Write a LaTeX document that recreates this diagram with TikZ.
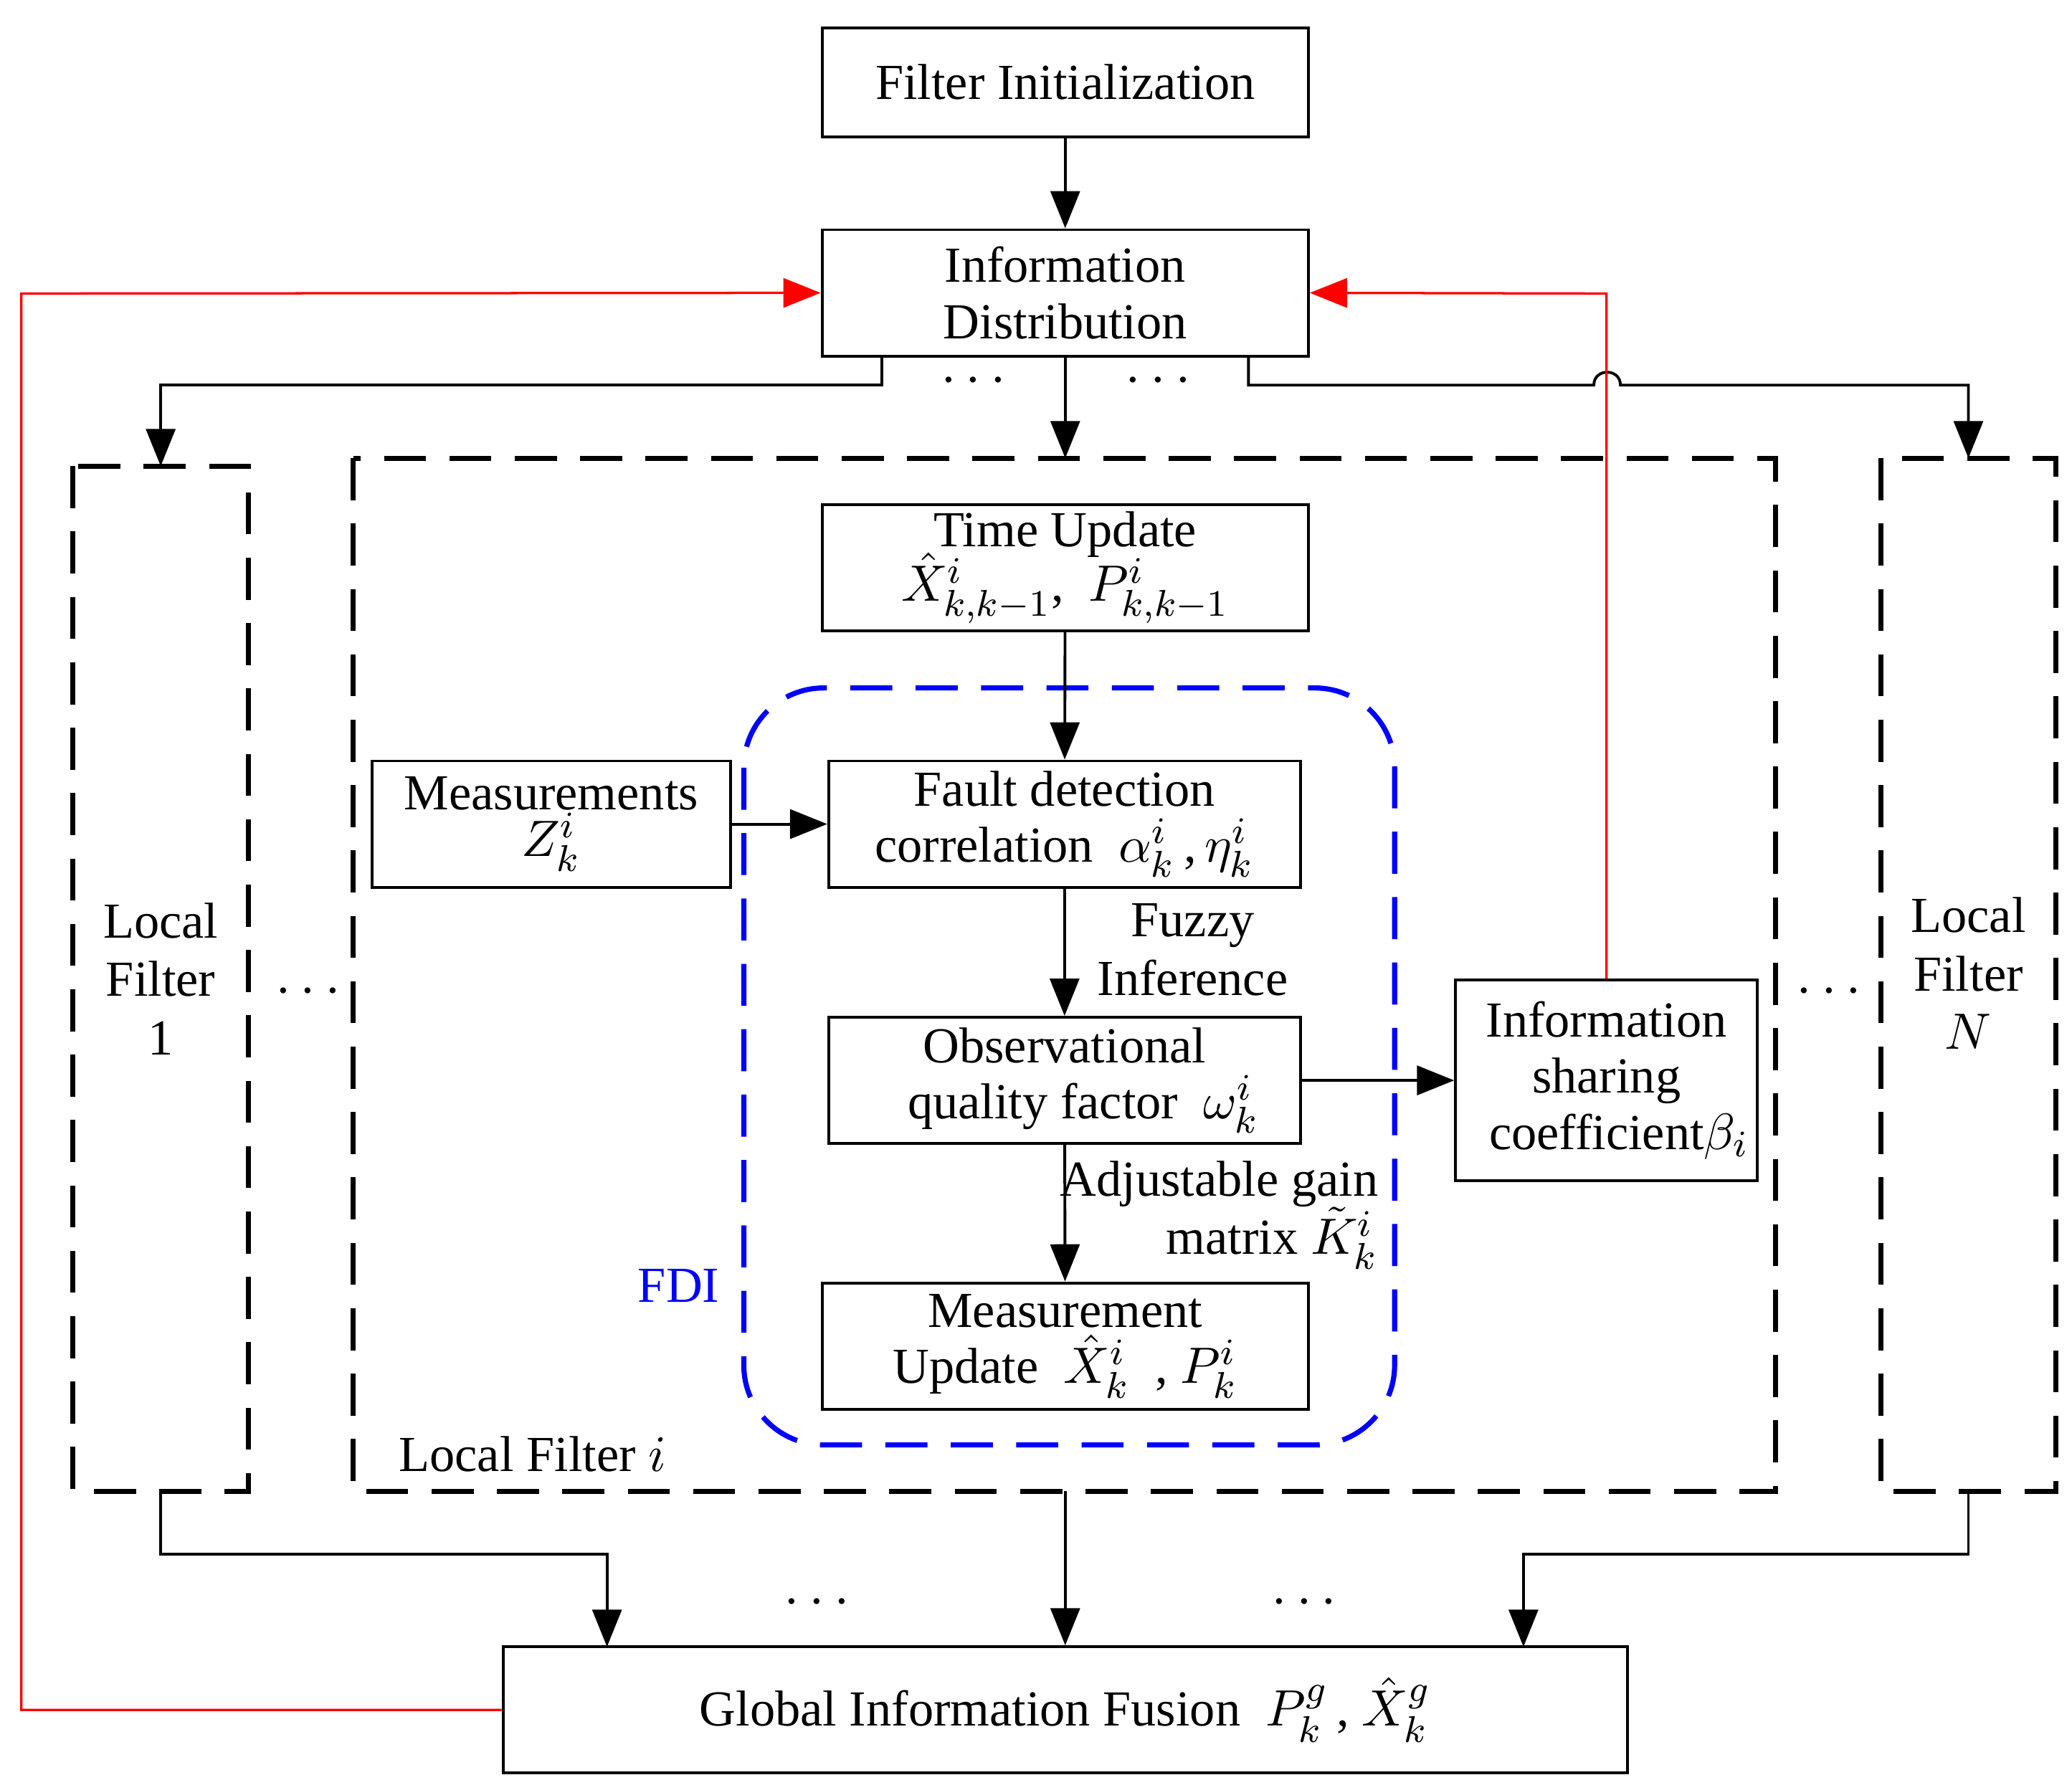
\documentclass[tikz,border=0pt]{standalone}
\usepackage{fontspec}
\setmainfont{Liberation Serif}
\usetikzlibrary{arrows.meta}
\begin{document}
\begin{tikzpicture}[x=0.01cm,y=-0.01cm,
  box/.style={draw,line width=0.6pt,inner sep=0pt,align=center,font=\fontsize{10.8}{12}\selectfont},
  dbox/.style={draw,line width=1.1pt,dash pattern=on 9pt off 5pt},
  arr/.style={line width=0.6pt,-{Triangle[length=0.28cm,width=0.22cm]}},
  rarr/.style={red,line width=0.5pt,-{Triangle[length=0.28cm,width=0.22cm]}},
  lbl/.style={font=\fontsize{10.8}{12.5}\selectfont,align=center},
  dots/.style={font=\fontsize{12}{12}\selectfont}]
\useasboundingbox (0,0) rectangle (1560,1344);
\node[box,minimum width=3.66cm,minimum height=0.82cm] (fi) at (802,62) {Filter Initialization};
\node[box,minimum width=3.66cm,minimum height=0.95cm] (id) at (802,220.5) {Information\\Distribution};
\draw[dbox] (55,351) rectangle (187,1123);
\node[lbl] (lf1) at (121,737) {Local\\Filter\\1};
\draw[dbox] (266,345) rectangle (1337,1123);
\node[lbl,anchor=west] (lfi) at (288,1095) {Local Filter $i$};
\draw[dbox] (1416,345) rectangle (1548,1123);
\node[lbl] (lfn) at (1482,733) {Local\\Filter\\$N$};
\coordinate (lf1t) at (121,351); \coordinate (lf1b) at (121,1123);
\coordinate (lfit) at (802,345); \coordinate (lfib) at (802,1123);
\coordinate (lfnt) at (1482,345); \coordinate (lfnb) at (1482,1123);
\draw[blue,line width=1.1pt,dash pattern=on 9pt off 5pt,rounded corners=0.6cm] (560,518) rectangle (1050,1088);
\node[blue,lbl] (fdi) at (511,968) {FDI};
\node[box,minimum width=3.66cm,minimum height=0.95cm] (tu) at (802,427.5) {Time Update\\[-2pt]$\hat X^i_{k,k-1}$,\ \ $P^i_{k,k-1}$};
\node[box,minimum width=2.7cm,minimum height=0.95cm] (me) at (415,620.5) {Measurements\\[-2pt]$Z^i_k$};
\node[box,minimum width=3.55cm,minimum height=0.95cm] (fd) at (801.5,620.5) {Fault detection\\correlation\ \ $\alpha^i_k$\,,\,$\eta^i_k$};
\node[box,minimum width=3.55cm,minimum height=0.95cm] (oq) at (801.5,813.5) {Observational\\\ \ \ quality factor\ \ $\omega^i_k$};
\node[box,minimum width=3.66cm,minimum height=0.95cm] (mu) at (802,1013.5) {Measurement\\Update\ \ $\hat X^i_k$\ \ ,\ $P^i_k$};
\node[box,minimum width=2.27cm,minimum height=1.51cm] (is) at (1209.5,813.5) {Information\\sharing\\\ \ coefficient$\beta_i$};
\node[box,minimum width=8.46cm,minimum height=0.95cm] (gf) at (802,1287.5) {Global Information Fusion\ \ $P^g_k$\,,\ $\hat X^g_k$};
\node[lbl] (fz) at (898,715) {Fuzzy\\Inference};
\node[lbl,align=right,anchor=east] (ag) at (1050,915) {Adjustable gain\\matrix $\tilde K^i_k$};
\foreach \n/\x/\y in {d1/733/287,d2/872/287,d3/232/747,d4/1377/747,d5/615/1207,d6/982/1207}
  \node[dots] (\n) at (\x,\y) {$\cdots$};
\draw[arr] (fi) -- (id);
\draw[arr] (664,268) |- (121,290) -- (lf1t);
\draw[arr] (id.south) -- (lfit);
\draw[arr] (940,268) -- (940,290) -- (1200,290) .. controls (1200,277) and (1220,277) .. (1220,290) -- (1482,290) -- (lfnt);
\draw[rarr] (gf.west) -- (16,1287.5) -- (16,221) -- (id.west);
\draw[rarr] (is.north) -- (1209.5,221) -- (id.east);
\draw[arr] (tu) -- (fd);
\draw[arr] (me) -- (fd);
\draw[arr] (fd) -- (oq);
\draw[arr] (oq) -- (is);
\draw[arr] (oq) -- (mu);
\draw[arr] (lf1b) -- (121,1170) -| (457,1240);
\draw[arr] (lfib) -- (gf.north);
\draw[arr] (lfnb) -- (1482,1170) -| (1147,1240);
\end{tikzpicture}
\end{document}
